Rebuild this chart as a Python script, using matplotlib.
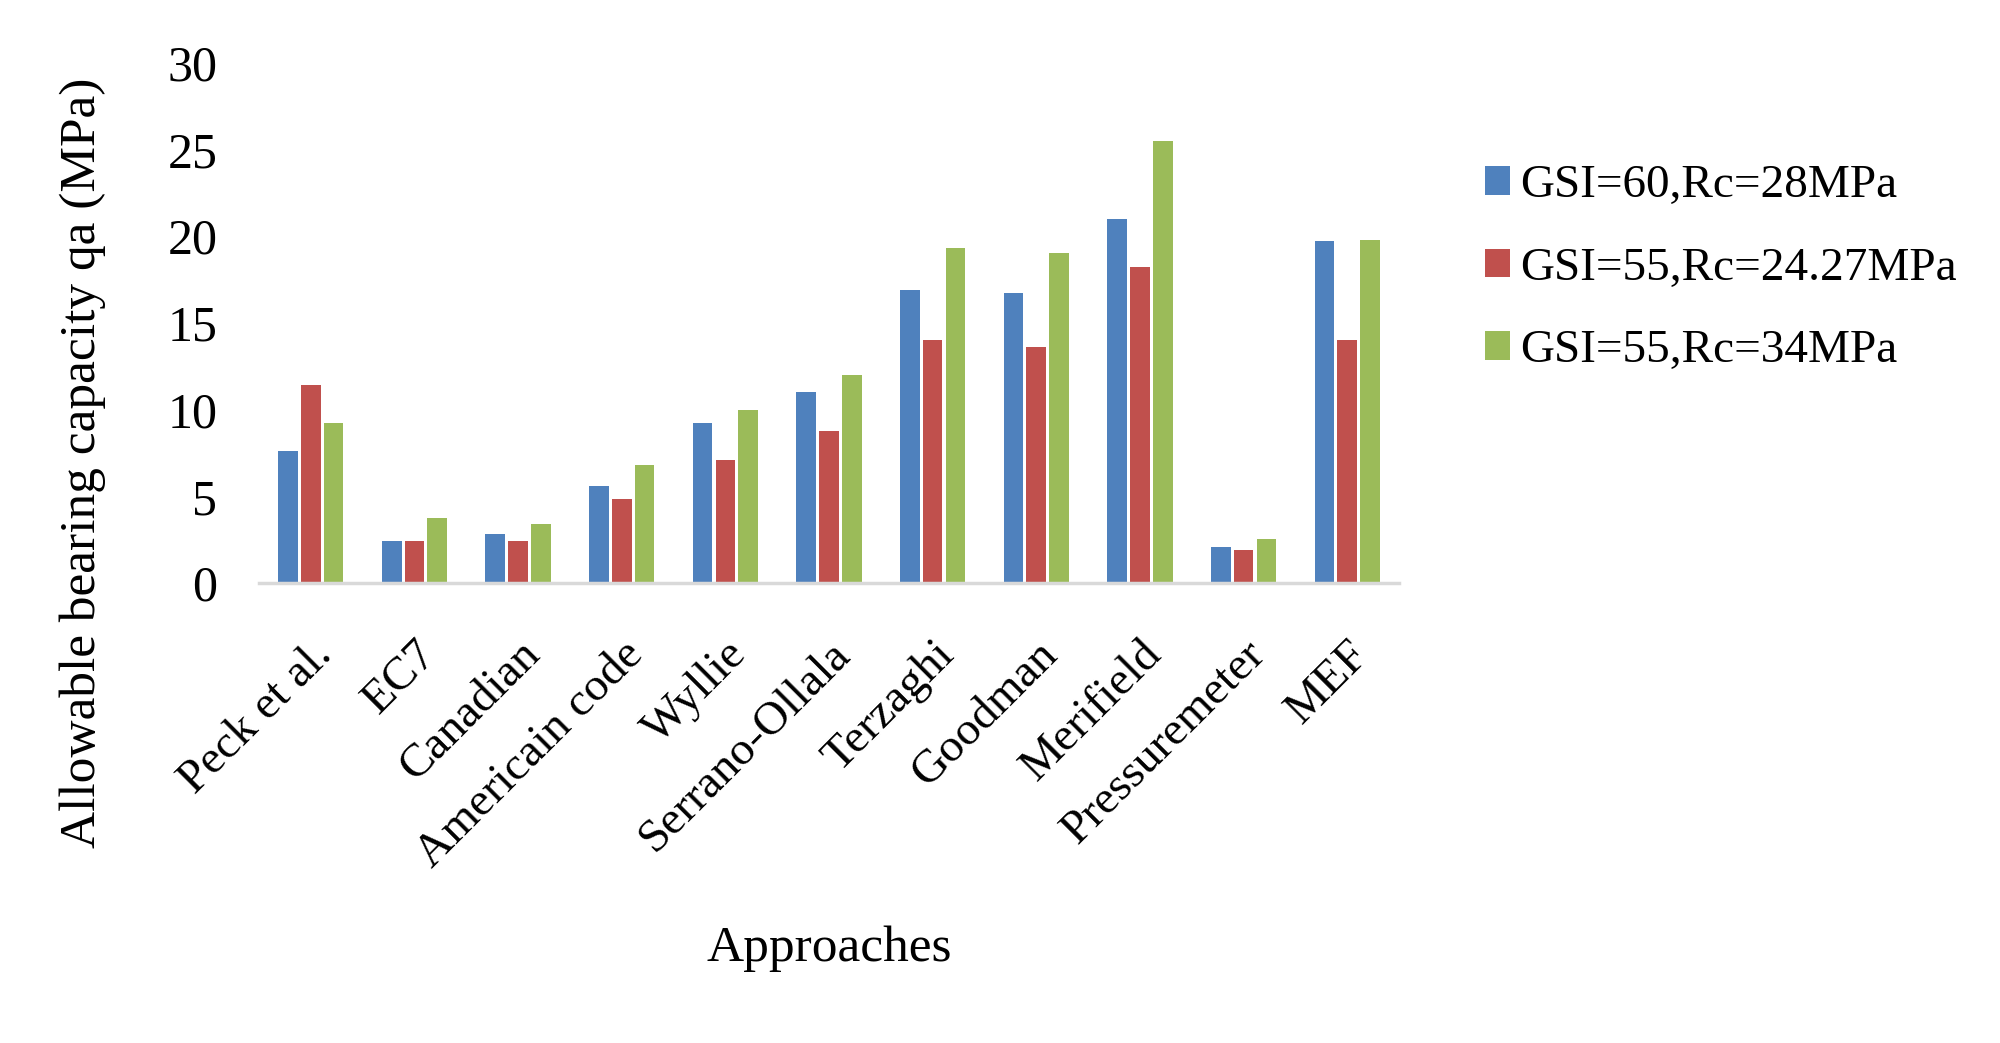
import matplotlib.pyplot as plt
import numpy as np

plt.rcParams['font.family'] = ['Liberation Serif', 'DejaVu Serif']

approaches = ['Peck et al.', 'EC7', 'Canadian', 'Americain code', 'Wyllie',
              'Serrano-Ollala', 'Terzaghi', 'Goodman', 'Merifield',
              'Pressuremeter', 'MEF']
gsi60_rc28 = [7.6, 2.45, 2.8, 5.6, 9.2, 11.0, 16.9, 16.7, 21.0, 2.05, 19.7]
gsi55_rc2427 = [11.4, 2.45, 2.4, 4.85, 7.1, 8.75, 14.0, 13.6, 18.2, 1.9, 14.0]
gsi55_rc34 = [9.2, 3.75, 3.4, 6.8, 10.0, 12.0, 19.3, 19.0, 25.5, 2.55, 19.8]
series_names = ['GSI=60,Rc=28MPa', 'GSI=55,Rc=24.27MPa', 'GSI=55,Rc=34MPa']
colors = ['#4F81BD', '#C0504D', '#9BBB59']

fig = plt.figure(figsize=(20, 10.43), dpi=100)
ax = fig.add_axes([0.1295, 0.441, 0.57, 0.499])

x = np.arange(len(approaches))
w = 0.19
for i, (vals, name, c) in enumerate(zip([gsi60_rc28, gsi55_rc2427, gsi55_rc34], series_names, colors)):
    ax.bar(x + (i - 1) * 0.22, vals, w, color=c, label=name)

ax.set_xlim(-0.5, len(approaches) - 0.5)
ax.set_ylim(0, 30)
ax.set_yticks(range(0, 31, 5))
ax.set_xticks(x)
ax.set_xticklabels(approaches, rotation=45, ha='right', rotation_mode='anchor', fontsize=34)
ax.tick_params(axis='both', length=0)
ax.tick_params(axis='y', pad=30, labelsize=36)
ax.tick_params(axis='x', pad=36)

for s in ['top', 'right', 'left']:
    ax.spines[s].set_visible(False)
ax.spines['bottom'].set_color('#D9D9D9')
ax.spines['bottom'].set_linewidth(2.5)

fig.text(0.0415, 0.556, 'Allowable bearing capacity qa (MPa)', fontsize=37,
         rotation=90, ha='center', va='center')
fig.text(0.4145, 0.09, 'Approaches', fontsize=37, ha='center', va='center')

fig.legend(loc='upper left', bbox_to_anchor=(0.721, 0.883), fontsize=34, frameon=False,
           handlelength=0.55, handleheight=0.55, handletextpad=0.2, labelspacing=0.85)

fig.savefig('out.png', dpi=100)
